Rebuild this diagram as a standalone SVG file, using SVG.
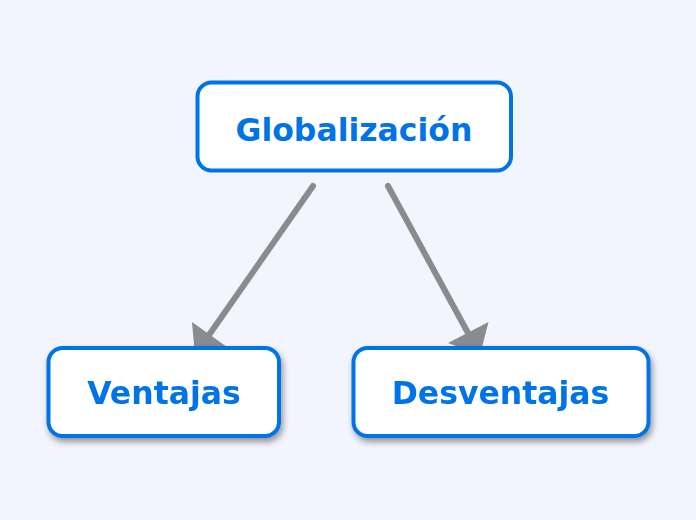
<svg xmlns="http://www.w3.org/2000/svg" width="696" height="520" viewBox="0 0 696 520">
  <defs>
    <filter id="shadow" x="-10%" y="-20%" width="130%" height="150%">
      <feGaussianBlur in="SourceAlpha" stdDeviation="3"/>
      <feOffset dx="2" dy="4" result="b"/>
      <feComponentTransfer><feFuncA type="linear" slope="0.4"/></feComponentTransfer>
      <feMerge><feMergeNode/><feMergeNode in="SourceGraphic"/></feMerge>
    </filter>
  </defs>
  <style>
    .box { fill: #ffffff; stroke: #0073e6; stroke-width: 4; }
    .label { font-family: "DejaVu Sans", Verdana, sans-serif; font-weight: bold; font-size: 31.5px; fill: #0073e6; text-anchor: middle; }
    .conn { stroke: #8a8b8f; stroke-width: 6; stroke-linecap: round; fill: none; }
    .head { fill: #8a8b8f; }
  </style>
  <rect width="696" height="520" fill="#f2f5fd"/>
  <g id="connectors">
    <line class="conn" x1="313" y1="186" x2="209" y2="335"/>
    <polygon class="head" points="192,322 227,347 195,356"/>
    <line class="conn" x1="388" y1="186" x2="468" y2="333"/>
    <polygon class="head" points="488.5,322 448,343 480,355"/>
  </g>
  <g id="node-globalizacion">
    <rect class="box" x="197.5" y="82.5" width="313.5" height="88" rx="14"/>
    <text class="label" x="354" y="141">Globalización</text>
  </g>
  <g id="node-ventajas" filter="url(#shadow)">
    <rect class="box" x="48.5" y="348" width="230.5" height="88" rx="14"/>
    <text class="label" x="164" y="404">Ventajas</text>
  </g>
  <g id="node-desventajas" filter="url(#shadow)">
    <rect class="box" x="353.5" y="348" width="295" height="88" rx="14"/>
    <text class="label" x="500.5" y="404">Desventajas</text>
  </g>
</svg>
